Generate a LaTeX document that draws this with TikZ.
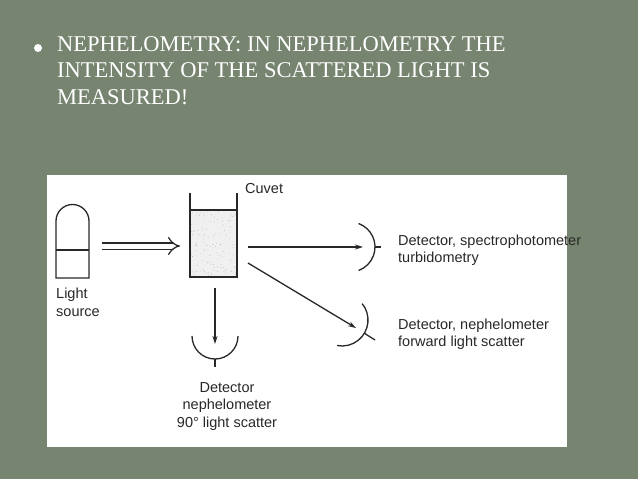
\documentclass[tikz,border=0pt]{standalone}
\usepackage{fontspec}
\setmainfont{Liberation Serif}
\newfontfamily\dsans{Liberation Sans}
\usetikzlibrary{arrows.meta}
\definecolor{bg}{RGB}{118,132,112}
\definecolor{ink}{RGB}{40,40,40}
\begin{document}
\begin{tikzpicture}[x=1pt,y=-1pt,
  ln/.style={draw=ink,line width=1.3pt},
  arr/.style={ln,-{Stealth[length=8pt,width=5pt]}},
  lab/.style={font=\dsans\fontsize{14.5}{17.5}\selectfont,text=ink,inner sep=0pt},
  ttl/.style={font=\fontsize{22.5}{26.5}\selectfont,text=white,anchor=north west,align=left,inner sep=0pt}]
\useasboundingbox (0,0) rectangle (638,479);
\fill[bg] (0,0) rectangle (638,479);
\fill[white] (47,175) rectangle (567,447);
\fill[white] (38,48) circle (4);
\node[ttl] (title) at (57,36) {NEPHELOMETRY: IN NEPHELOMETRY THE\\INTENSITY OF THE SCATTERED LIGHT IS\\MEASURED!};
% light source
\draw[ln] (56,278) -- (56,221) arc[start angle=180,end angle=360,radius=16.5] -- (89,278) -- cycle;
\draw[ln] (56,250) -- (89,250);
\node[lab,anchor=north west,align=left] (ls) at (56,288) {Light\\source};
% double arrow
\coordinate (da1) at (102,246);
\coordinate (da2) at (180,246);
\draw[ln,double,double distance=5pt,-{Implies[]}] (da1) -- (da2);
% cuvet
\fill[gray!12] (190,210) rectangle (237,277);
\foreach \i in {1,...,140}{\fill[gray!70] ({190+47*rnd},{210+67*rnd}) circle (0.35);}
\draw[ln] (190,193) -- (190,277) -- (237,277) -- (237,193);
\draw[ln] (190,210) -- (237,210);
\node[lab,anchor=west] (cuvet) at (245,189) {Cuvet};
\coordinate (c1) at (248,247);
\coordinate (c2) at (248,263);
\coordinate (c3) at (215,288);
% detector 1
\coordinate (d1) at (363,247);
\draw[arr] (c1) -- (d1);
\draw[ln] (350,247) ++(-70:25) arc[start angle=-70,end angle=70,radius=25];
\draw[ln] (375,247) -- (381,247);
\node[lab,anchor=west,align=left] (t1) at (398,250) {Detector, spectrophotometer\\turbidometry};
% detector 2
\coordinate (d2) at (356,328);
\draw[arr] (c2) -- (d2);
\draw[ln] (342,320) ++(-39:26) arc[start angle=-39,end angle=101,radius=26];
\draw[ln] (364,333) -- (375,340);
\node[lab,anchor=west,align=left] (t2) at (398,334) {Detector, nephelometer\\forward light scatter};
% detector 3
\coordinate (d3) at (215,344);
\draw[arr] (c3) -- (d3);
\draw[ln] (215,336) ++(0:23) arc[start angle=0,end angle=180,radius=23];
\draw[ln] (215,359) -- (215,367);
\node[lab,anchor=north,align=center] (t3) at (227,382) {Detector\\nephelometer\\90° light scatter};
\end{tikzpicture}
\end{document}
